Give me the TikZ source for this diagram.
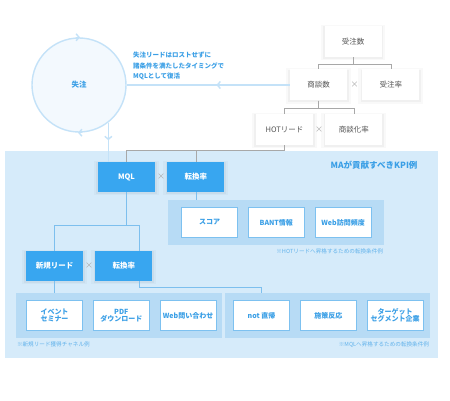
\documentclass[tikz,border=0pt]{standalone}
\usepackage{fontspec}
\setmainfont{Noto Sans CJK JP}
\usepackage{xcolor}
\usepackage{tikz}
\usetikzlibrary{arrows.meta, positioning, shadows, decorations.markings}

\definecolor{panelblue}{HTML}{D6EBFA}
\definecolor{grpblue}{HTML}{B7DBF5}
\definecolor{mablue}{HTML}{38A6F0}
\definecolor{condline}{HTML}{7DC1F0}
\definecolor{textblue}{HTML}{3A9FE6}
\definecolor{treegray}{HTML}{A8A8A8}
\definecolor{linkblue}{HTML}{7DBFEE}
\definecolor{circfill}{HTML}{F3F9FE}
\definecolor{circline}{HTML}{C4E2F8}
\definecolor{kpigray}{HTML}{555555}

\begin{document}
\begin{tikzpicture}[
        x=1pt, y=-1pt,
        node distance=12pt and 12pt,
        softshadow/.style={general shadow={fill=black, opacity=0.025, shadow scale=1.14, shadow yshift=-1pt},
                           general shadow={fill=black, opacity=0.035, shadow scale=1.06, shadow yshift=-1pt}},
        kpi/.style={rectangle, fill=white, minimum width=57pt, minimum height=31pt, inner sep=0pt, text=kpigray, font=\fontsize{7.5}{9}\selectfont, softshadow},
        mabox/.style={rectangle, fill=mablue, minimum width=57pt, minimum height=30pt, inner sep=0pt, text=white, font=\fontsize{7.5}{9}\selectfont\bfseries, softshadow},
        cond/.style={rectangle, fill=white, draw=condline, line width=0.8pt, minimum width=56pt, minimum height=30pt, inner sep=0pt, align=center, text=textblue, font=\fontsize{7}{7.5}\selectfont\bfseries},
        grp/.style={rectangle, fill=grpblue, minimum height=45pt, inner sep=0pt},
        times/.style={text=treegray, font=\fontsize{8}{8}\selectfont, inner sep=0pt},
        caption/.style={text=textblue!80, font=\fontsize{5.6}{6}\selectfont, inner sep=1pt},
        tree/.style={draw=treegray, line width=0.8pt},
        link/.style={draw=linkblue, line width=0.8pt},
        cline/.style={draw=circline, line width=1.4pt},
        midarrow/.style={postaction={decorate}, decoration={markings, mark=at position #1 with {\arrow{Straight Barb[length=3pt, width=7pt]}}}}
    ]

    \useasboundingbox[fill=white] (0,0) rectangle (450,401);

    % MA panel
    \node (mapanel) [rectangle, fill=panelblue, minimum width=433pt, minimum height=207pt, inner sep=0pt] at (221.5,254.5) {};
    \node (matitle) [anchor=east, text=textblue, font=\fontsize{8.5}{9}\selectfont\bfseries] at (421,165) {MAが貢献すべきKPI例};

    % Lost deals
    \node (lost) [circle, minimum size=94pt, fill=circfill, cline, text=textblue, font=\fontsize{7.5}{9}\selectfont\bfseries] at (79,85) {失注};
    \node (memo) [anchor=north west, align=left, text=textblue, font=\fontsize{6.5}{10.5}\selectfont\bfseries, inner sep=0pt] at (133,52) {失注リードはロストせずに\\諸条件を満たしたタイミングで\\MQLとして復活};

    % KPI tree
    \node (orders) [kpi] at (353,41.5) {受注数};
    \node (deals) [kpi] at (318.5,85) {商談数};
    \node (winrate) [kpi, right=15pt of deals] {受注率};
    \node (hot) [kpi] at (284.5,129.5) {HOTリード};
    \node (dealrate) [kpi, right=of hot] {商談化率};
    \path (deals) -- node (x1) [times] {×} (winrate);
    \path (hot) -- node (x2) [times] {×} (dealrate);

    % MA boxes
    \node (mql) [mabox] at (126.5,177) {MQL};
    \node (conv1) [mabox, right=of mql] {転換率};
    \node (newlead) [mabox] at (54.5,266) {新規リード};
    \node (conv2) [mabox, right=of newlead] {転換率};
    \path (mql) -- node (x3) [times] {×} (conv1);
    \path (newlead) -- node (x4) [times] {×} (conv2);

    % Condition groups
    \node (hotgrp) [grp, minimum width=216pt] at (276,222.5) {};
    \node (score) [cond] at (209.5,222.5) {スコア};
    \node (bant) [cond, right=10pt of score] {BANT情報};
    \node (webvisit) [cond, right=10pt of bant] {Web訪問頻度};
    \node (cap1) [caption, anchor=north east] at ([yshift=-2pt]hotgrp.south east) {※HOTリードへ昇格するための転換条件例};

    \node (chgrp) [grp, minimum width=206pt] at (119,315.5) {};
    \node (event) [cond] at (54.5,315.5) {イベント\\セミナー};
    \node (pdf) [cond, right=10pt of event] {PDF\\ダウンロード};
    \node (webform) [cond, right=10pt of pdf] {Web問い合わせ};
    \node (cap2) [caption, anchor=north west] at ([yshift=-2pt]chgrp.south west) {※新規リード獲得チャネル例};

    \node (mqlgrp) [grp, minimum width=205pt] at (327.5,315.5) {};
    \node (nobounce) [cond] at (261.5,315.5) {not 直帰};
    \node (react) [cond, right=10pt of nobounce] {施策反応};
    \node (target) [cond, right=10pt of react] {ターゲット\\セグメント企業};
    \node (cap3) [caption, anchor=north east] at ([yshift=-2pt]mqlgrp.south east) {※MQLへ昇格するための転換条件例};

    % Connectors
    \draw [tree] (orders.south) -- ++(0,7) -| (deals.north);
    \draw [tree] (orders.south) -- ++(0,7) -| (winrate.north);
    \draw [tree] (deals.south) -- ++(0,7.5) -| (hot.north);
    \draw [tree] (deals.south) -- ++(0,7.5) -| (dealrate.north);
    \draw [tree] (hot.south) -- ++(0,5.5) -| (mql.north);
    \draw [tree] (hot.south) -- ++(0,5.5) -| (conv1.north);
    \draw [link] (conv1.south) -- (conv1.south |- hotgrp.north);
    \draw [link] (mql.south) -- ++(0,33.5) -| (newlead.north);
    \draw [link] (mql.south) -- ++(0,33.5) -| ([xshift=15pt]conv2.north);
    \draw [link] ([xshift=15pt]conv2.south) -- ++(0,6) -| (mqlgrp.north -| nobounce);
    \draw [link] (newlead.south) -- (newlead.south |- chgrp.north);

    % Revival loop
    \draw [cline, midarrow=0.45] (deals.west) -- (lost.east);
    \draw [cline, midarrow=0.45] (lost.-52) -- (lost.-52 |- mql.north);
    \draw [cline, -{Straight Barb[length=3pt, width=7pt]}] ([xshift=-3pt]lost.north) -- ([xshift=1pt]lost.north);
    \draw [cline, -{Straight Barb[length=3pt, width=7pt]}] ([xshift=3pt]lost.south) -- ([xshift=-1pt]lost.south);

\end{tikzpicture}
\end{document}
